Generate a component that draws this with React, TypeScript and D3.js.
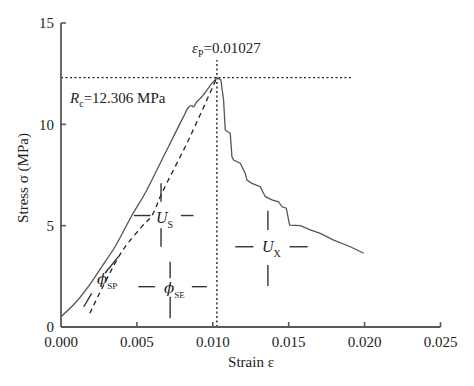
import React from "react";
import * as d3 from "d3";

// ---- data ----
const rising: [number, number][] = [
  [0.0, 0.51], [0.00092, 1.17], [0.0018, 1.99], [0.00268, 2.97], [0.00356, 3.96],
  [0.00466, 5.49], [0.00554, 6.6], [0.00642, 7.91], [0.0073, 9.23], [0.00807, 10.38],
  [0.0084, 10.84], [0.00862, 10.92], [0.00872, 10.86], [0.00895, 11.12], [0.00928, 11.36],
  [0.00961, 11.69], [0.00994, 12.02], [0.01027, 12.306],
];
const falling: [number, number][] = [
  [0.01027, 12.306], [0.01053, 12.19], [0.01071, 11.2], [0.01082, 9.72], [0.01115, 9.56],
  [0.01126, 8.4], [0.01137, 8.24], [0.01181, 8.08], [0.01214, 7.58], [0.01225, 7.25],
  [0.01258, 7.09], [0.01313, 6.92], [0.01334, 6.6], [0.01346, 6.43], [0.0139, 6.27],
  [0.01433, 6.18], [0.01456, 5.93], [0.01484, 5.86], [0.01506, 5.03], [0.01577, 5.0],
  [0.01642, 4.79], [0.01708, 4.62], [0.01796, 4.29], [0.01906, 3.96], [0.01994, 3.64],
];
const elastic: [number, number][] = [
  [0.0019, 0.68], [0.004, 3.71], [0.00532, 4.95], [0.00598, 5.49], [0.00664, 6.6],
  [0.0084, 9.23], [0.01027, 12.306],
];
const peakStrain = 0.01027;
const peakStress = 12.306;
const hLineEnd = 0.01914;
const vLineTop = 13.17;

const xTicks = [0, 0.005, 0.01, 0.015, 0.02, 0.025];
const xTickLabels = ["0.000", "0.005", "0.010", "0.015", "0.020", "0.025"];
const yTicks = [0, 5, 10, 15];
const yTickLabels = ["0", "5", "10", "15"];

// annotation bars in data units: [x1, y1, x2, y2]
const usBars = [
  [0.0048, 5.5, 0.0059, 5.5], [0.0079, 5.5, 0.00873, 5.5],
  [0.00659, 7.09, 0.00659, 6.18], [0.00659, 4.87, 0.00659, 3.96],
];
const phiSeBars = [
  [0.0051, 1.99, 0.0062, 1.99], [0.00862, 1.99, 0.00961, 1.99],
  [0.00719, 3.22, 0.00719, 2.4], [0.00719, 1.49, 0.00719, 0.43],
];
const uxBars = [
  [0.01148, 3.96, 0.01268, 3.96], [0.01506, 3.96, 0.01625, 3.96],
  [0.01363, 5.74, 0.01363, 4.79], [0.01363, 3.06, 0.01363, 2.02],
];
const phiSpBars = [
  [0.0029, 2.65, 0.00378, 3.47], [0.0015, 1.0, 0.00202, 1.66],
];

export default function App() {
  const W = 474, H = 386;
  const x = d3.scaleLinear().domain([0, 0.025]).range([61, 440.5]);
  const y = d3.scaleLinear().domain([0, 15]).range([327, 23]);
  const line = d3.line<[number, number]>().x((d) => x(d[0])).y((d) => y(d[1]));
  const smooth = d3.line<[number, number]>().x((d) => x(d[0])).y((d) => y(d[1]))
    .curve(d3.curveCatmullRom.alpha(0.5));
  const font = "'Liberation Serif', 'DejaVu Serif', serif";
  const axisColor = "#5a5a5a";
  const curveColor = "#555";
  const textColor = "#222";

  const bars = (arr: number[][], key: string) =>
    arr.map((b, i) => (
      <line key={key + i} x1={x(b[0])} y1={y(b[1])} x2={x(b[2])} y2={y(b[3])}
        stroke="#333" strokeWidth={1.4} />
    ));

  return (
    <svg width={W} height={H} style={{ position: "absolute", left: 0, top: 0, background: "#fff" }}
      fontFamily={font}>
      {/* dotted reference lines */}
      <line x1={x(0)} x2={x(hLineEnd)} y1={y(peakStress)} y2={y(peakStress)}
        stroke="#222" strokeWidth={1.4} strokeDasharray="2,2.5" />
      <line x1={x(peakStrain)} x2={x(peakStrain)} y1={y(0)} y2={y(vLineTop)}
        stroke="#222" strokeWidth={1.4} strokeDasharray="2,2.5" />

      {/* curves */}
      <path d={smooth(rising) || ""} fill="none" stroke={curveColor} strokeWidth={1.3} />
      <path d={line(falling) || ""} fill="none" stroke={curveColor} strokeWidth={1.3} />
      <path d={smooth(elastic) || ""} fill="none" stroke="#222" strokeWidth={1.3}
        strokeDasharray="5,4" />

      {/* axes */}
      <line x1={x(0)} x2={x(0)} y1={y(0)} y2={y(15)} stroke={axisColor} strokeWidth={1.8} />
      <line x1={x(0)} x2={x(0.025)} y1={y(0)} y2={y(0)} stroke={axisColor} strokeWidth={1.8} />
      {yTicks.map((t, i) => (
        <g key={"yt" + i}>
          {t > 0 && (
            <line x1={x(0)} x2={x(0) + 5} y1={y(t)} y2={y(t)} stroke={axisColor} strokeWidth={1.6} />
          )}
          <text x={x(0) - 7} y={y(t)} dy="0.35em" textAnchor="end" fontSize={15} fill={textColor}>
            {yTickLabels[i]}
          </text>
        </g>
      ))}
      {xTicks.map((t, i) => (
        <g key={"xt" + i}>
          {t > 0 && (
            <line x1={x(t)} x2={x(t)} y1={y(0)} y2={y(0) - 5} stroke={axisColor} strokeWidth={1.6} />
          )}
          <text x={x(t)} y={347} textAnchor="middle" fontSize={15} fill={textColor}>
            {xTickLabels[i]}
          </text>
        </g>
      ))}

      {/* axis titles */}
      <text x={251} y={367} textAnchor="middle" fontSize={15} fill={textColor}>Strain ε</text>
      <text transform={`translate(28,178) rotate(-90)`} textAnchor="middle" fontSize={15}
        fill={textColor}>Stress σ (MPa)</text>

      {/* annotations */}
      <text x={192} y={53} fontSize={15} fill={textColor}>
        <tspan fontStyle="italic">ε</tspan>
        <tspan fontSize={10} dy={4}>P</tspan>
        <tspan dy={-4}>=0.01027</tspan>
      </text>
      <text x={70} y={103} fontSize={15} fill={textColor}>
        <tspan fontStyle="italic">R</tspan>
        <tspan fontSize={10} dy={4}>c</tspan>
        <tspan dy={-4}>=12.306 MPa</tspan>
      </text>

      {bars(usBars, "us")}
      {bars(phiSeBars, "se")}
      {bars(uxBars, "ux")}
      {bars(phiSpBars, "sp")}

      <text x={156} y={223} fontSize={16} fill={textColor}>
        <tspan fontStyle="italic">U</tspan>
        <tspan fontSize={10} dy={5}>S</tspan>
      </text>
      <text x={164} y={293} fontSize={16} fill={textColor}>
        <tspan fontStyle="italic" fontFamily="'DejaVu Serif', serif" fontSize={15}>ϕ</tspan>
        <tspan fontSize={9} dy={5}>SE</tspan>
      </text>
      <text x={262} y={252} fontSize={16} fill={textColor}>
        <tspan fontStyle="italic">U</tspan>
        <tspan fontSize={10} dy={5}>X</tspan>
      </text>
      <text x={97} y={284} fontSize={16} fill={textColor}>
        <tspan fontStyle="italic" fontFamily="'DejaVu Serif', serif" fontSize={15}>ϕ</tspan>
        <tspan fontSize={9} dy={5}>SP</tspan>
      </text>
    </svg>
  );
}
